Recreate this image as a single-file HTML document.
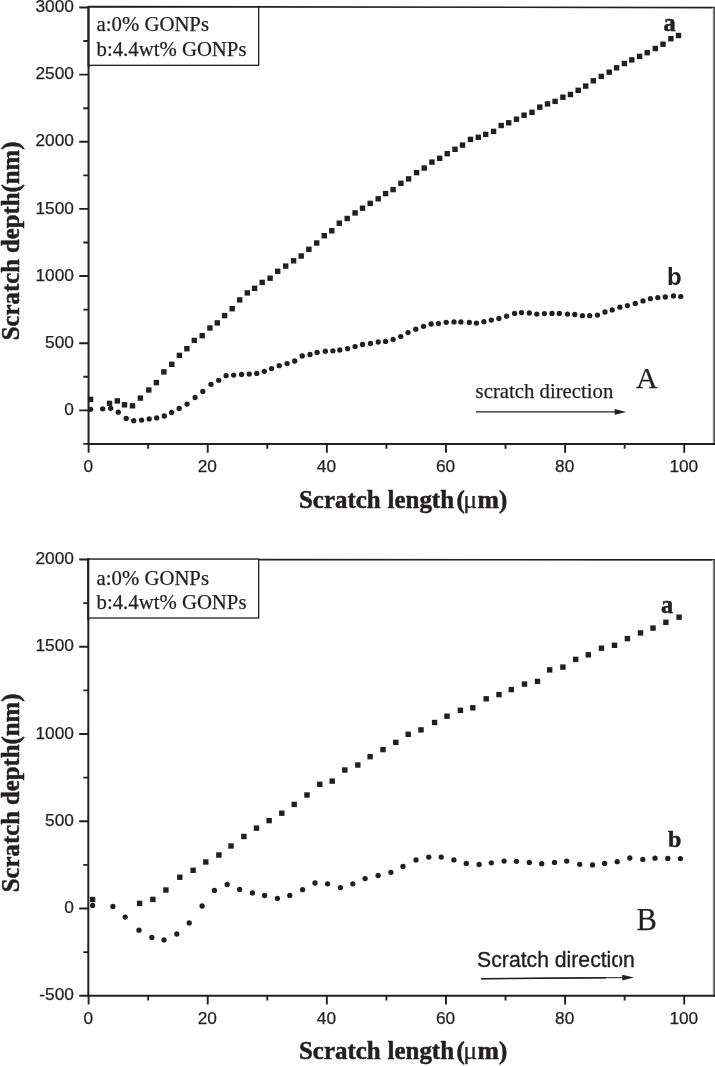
<!DOCTYPE html>
<html lang="en"><head><meta charset="utf-8">
<title>Scratch depth vs scratch length</title>
<style>
html,body{margin:0;padding:0;background:#fff;}
body{width:715px;height:1066px;overflow:hidden;}
svg{display:block;will-change:transform;}
.sans{font-family:"Liberation Sans",sans-serif;}
.serif{font-family:"Liberation Serif",serif;}
.tick{font-size:17.3px;}
.leg{font-size:20.75px;}
.axl{font-size:24.9px;font-weight:bold;}
.big{font-size:31px;}
.cur{font-size:24px;font-weight:bold;}
text{stroke:#231f20;stroke-width:0.25px;stroke-linejoin:round;}
.axl,.cur{stroke-width:0.5px;}
.tick{stroke-width:0.15px;}
</style></head><body>
<svg width="715" height="1066" viewBox="0 0 715 1066" fill="#231f20">
<g id="plotA">
<path d="M88.55 6.55 L715.00 7.60" stroke="#231f20" stroke-width="1.7" fill="none"/>
<path d="M712.5 8.50V442.90" stroke="#ebebeb" stroke-width="1" fill="none"/>
<path d="M713.5 7.50V444.90" stroke="#858283" stroke-width="1" fill="none"/>
<path d="M714.5 7.50V444.90" stroke="#575455" stroke-width="1" fill="none"/>
<path d="M88.55 6.10 V443.90 H715.00" stroke="#231f20" stroke-width="2.0" fill="none"/>
<path d="M79.20 410.33H88.55M79.20 343.19H88.55M79.20 276.05H88.55M79.20 208.92H88.55M79.20 141.78H88.55M79.20 74.64H88.55M79.20 7.50H88.55M83.30 443.90H88.55M83.30 376.76H88.55M83.30 309.62H88.55M83.30 242.48H88.55M83.30 175.35H88.55M83.30 108.21H88.55M83.30 41.07H88.55" stroke="#231f20" stroke-width="1.9" fill="none"/>
<path d="M88.60 443.90V452.70M207.72 443.90V452.70M326.84 443.90V452.70M445.96 443.90V452.70M565.08 443.90V452.70M684.20 443.90V452.70M148.16 443.90V448.80M267.28 443.90V448.80M386.40 443.90V448.80M505.52 443.90V448.80M624.64 443.90V448.80" stroke="#231f20" stroke-width="1.9" fill="none"/>
<g class="sans tick" text-anchor="end">
<text x="73.9" y="414.93">0</text>
<text x="73.9" y="347.79">500</text>
<text x="73.9" y="280.65">1000</text>
<text x="73.9" y="213.52">1500</text>
<text x="73.9" y="146.38">2000</text>
<text x="73.9" y="79.24">2500</text>
<text x="73.9" y="12.10">3000</text>
</g>
<g class="sans tick" text-anchor="middle">
<text x="88.20" y="471.70">0</text>
<text x="207.32" y="471.70">20</text>
<text x="326.44" y="471.70">40</text>
<text x="445.56" y="471.70">60</text>
<text x="564.68" y="471.70">80</text>
<text x="683.80" y="471.70">100</text>
</g>
<rect x="88.55" y="7.10" width="170.15" height="58.20" fill="#fff" stroke="#231f20" stroke-width="1.3"/>
<g class="serif leg">
<text x="96.6" y="31.40">a:0% GONPs</text>
<text x="96.6" y="55.70">b:4.4wt% GONPs</text>
</g>
<path d="M88.55 6.10 V67.30" stroke="#231f20" stroke-width="2.0" fill="none"/>
<g id="series-a-A">
<rect x="87.9" y="396.7" width="5.4" height="5.4"/>
<rect x="106.8" y="400.7" width="5.4" height="5.4"/>
<rect x="114.6" y="398.2" width="5.4" height="5.4"/>
<rect x="121.8" y="402.1" width="5.4" height="5.4"/>
<rect x="129.8" y="403.1" width="5.4" height="5.4"/>
<rect x="137.7" y="395.4" width="5.4" height="5.4"/>
<rect x="146.1" y="387.3" width="5.4" height="5.4"/>
<rect x="153.7" y="379.9" width="5.4" height="5.4"/>
<rect x="161.2" y="369.2" width="5.4" height="5.4"/>
<rect x="169.1" y="361.6" width="5.4" height="5.4"/>
<rect x="176.7" y="352.7" width="5.4" height="5.4"/>
<rect x="184.2" y="346.0" width="5.4" height="5.4"/>
<rect x="191.6" y="337.7" width="5.4" height="5.4"/>
<rect x="199.5" y="333.0" width="5.4" height="5.4"/>
<rect x="207.2" y="325.3" width="5.4" height="5.4"/>
<rect x="214.6" y="320.2" width="5.4" height="5.4"/>
<rect x="221.9" y="312.9" width="5.4" height="5.4"/>
<rect x="229.5" y="306.0" width="5.4" height="5.4"/>
<rect x="237.0" y="297.2" width="5.4" height="5.4"/>
<rect x="244.6" y="290.2" width="5.4" height="5.4"/>
<rect x="251.9" y="285.6" width="5.4" height="5.4"/>
<rect x="259.5" y="279.7" width="5.4" height="5.4"/>
<rect x="267.4" y="275.5" width="5.4" height="5.4"/>
<rect x="275.0" y="268.6" width="5.4" height="5.4"/>
<rect x="283.0" y="263.4" width="5.4" height="5.4"/>
<rect x="290.9" y="258.1" width="5.4" height="5.4"/>
<rect x="298.5" y="253.3" width="5.4" height="5.4"/>
<rect x="306.2" y="246.6" width="5.4" height="5.4"/>
<rect x="314.0" y="240.3" width="5.4" height="5.4"/>
<rect x="321.6" y="233.0" width="5.4" height="5.4"/>
<rect x="329.1" y="228.1" width="5.4" height="5.4"/>
<rect x="336.6" y="220.5" width="5.4" height="5.4"/>
<rect x="344.5" y="215.8" width="5.4" height="5.4"/>
<rect x="352.4" y="210.2" width="5.4" height="5.4"/>
<rect x="359.8" y="205.5" width="5.4" height="5.4"/>
<rect x="367.5" y="200.7" width="5.4" height="5.4"/>
<rect x="375.5" y="196.1" width="5.4" height="5.4"/>
<rect x="382.9" y="190.9" width="5.4" height="5.4"/>
<rect x="390.4" y="186.9" width="5.4" height="5.4"/>
<rect x="398.2" y="180.6" width="5.4" height="5.4"/>
<rect x="405.9" y="176.2" width="5.4" height="5.4"/>
<rect x="413.9" y="169.9" width="5.4" height="5.4"/>
<rect x="421.5" y="165.3" width="5.4" height="5.4"/>
<rect x="429.2" y="159.4" width="5.4" height="5.4"/>
<rect x="437.0" y="155.6" width="5.4" height="5.4"/>
<rect x="444.5" y="151.0" width="5.4" height="5.4"/>
<rect x="452.3" y="146.6" width="5.4" height="5.4"/>
<rect x="459.8" y="142.4" width="5.4" height="5.4"/>
<rect x="467.8" y="136.7" width="5.4" height="5.4"/>
<rect x="475.6" y="134.6" width="5.4" height="5.4"/>
<rect x="483.0" y="131.7" width="5.4" height="5.4"/>
<rect x="490.9" y="128.7" width="5.4" height="5.4"/>
<rect x="498.5" y="122.8" width="5.4" height="5.4"/>
<rect x="506.0" y="120.1" width="5.4" height="5.4"/>
<rect x="513.8" y="116.5" width="5.4" height="5.4"/>
<rect x="521.4" y="112.5" width="5.4" height="5.4"/>
<rect x="529.3" y="109.6" width="5.4" height="5.4"/>
<rect x="537.1" y="104.4" width="5.4" height="5.4"/>
<rect x="544.8" y="101.2" width="5.4" height="5.4"/>
<rect x="552.4" y="98.7" width="5.4" height="5.4"/>
<rect x="560.2" y="94.5" width="5.4" height="5.4"/>
<rect x="567.7" y="91.8" width="5.4" height="5.4"/>
<rect x="575.5" y="87.6" width="5.4" height="5.4"/>
<rect x="583.0" y="83.4" width="5.4" height="5.4"/>
<rect x="590.6" y="78.1" width="5.4" height="5.4"/>
<rect x="598.6" y="73.7" width="5.4" height="5.4"/>
<rect x="606.5" y="69.5" width="5.4" height="5.4"/>
<rect x="613.9" y="65.1" width="5.4" height="5.4"/>
<rect x="621.7" y="60.8" width="5.4" height="5.4"/>
<rect x="629.1" y="57.2" width="5.4" height="5.4"/>
<rect x="636.9" y="53.7" width="5.4" height="5.4"/>
<rect x="644.5" y="50.0" width="5.4" height="5.4"/>
<rect x="652.6" y="45.8" width="5.4" height="5.4"/>
<rect x="660.3" y="41.5" width="5.4" height="5.4"/>
<rect x="668.2" y="36.0" width="5.4" height="5.4"/>
<rect x="675.8" y="32.8" width="5.4" height="5.4"/>
</g>
<g id="series-b-A">
<circle cx="90.6" cy="409.3" r="2.65"/>
<circle cx="102.7" cy="408.8" r="2.65"/>
<circle cx="110.7" cy="408.3" r="2.65"/>
<circle cx="118.3" cy="412.2" r="2.65"/>
<circle cx="126.2" cy="418.4" r="2.65"/>
<circle cx="133.7" cy="420.7" r="2.65"/>
<circle cx="141.6" cy="420.1" r="2.65"/>
<circle cx="149.2" cy="418.9" r="2.65"/>
<circle cx="156.7" cy="417.9" r="2.65"/>
<circle cx="164.3" cy="416.0" r="2.65"/>
<circle cx="171.6" cy="412.5" r="2.65"/>
<circle cx="179.2" cy="408.5" r="2.65"/>
<circle cx="187.1" cy="404.1" r="2.65"/>
<circle cx="195.1" cy="397.5" r="2.65"/>
<circle cx="202.8" cy="391.5" r="2.65"/>
<circle cx="211.0" cy="384.3" r="2.65"/>
<circle cx="218.7" cy="380.3" r="2.65"/>
<circle cx="226.1" cy="375.7" r="2.65"/>
<circle cx="233.6" cy="375.1" r="2.65"/>
<circle cx="241.6" cy="374.5" r="2.65"/>
<circle cx="249.2" cy="374.1" r="2.65"/>
<circle cx="256.7" cy="373.4" r="2.65"/>
<circle cx="264.3" cy="371.3" r="2.65"/>
<circle cx="271.6" cy="368.6" r="2.65"/>
<circle cx="279.2" cy="365.7" r="2.65"/>
<circle cx="287.1" cy="363.6" r="2.65"/>
<circle cx="294.7" cy="361.0" r="2.65"/>
<circle cx="302.2" cy="356.0" r="2.65"/>
<circle cx="310.0" cy="354.5" r="2.65"/>
<circle cx="317.1" cy="352.4" r="2.65"/>
<circle cx="325.3" cy="351.2" r="2.65"/>
<circle cx="332.9" cy="350.8" r="2.65"/>
<circle cx="339.8" cy="350.0" r="2.65"/>
<circle cx="347.6" cy="348.7" r="2.65"/>
<circle cx="355.1" cy="346.6" r="2.65"/>
<circle cx="362.5" cy="344.5" r="2.65"/>
<circle cx="370.5" cy="343.5" r="2.65"/>
<circle cx="378.2" cy="342.0" r="2.65"/>
<circle cx="385.6" cy="341.4" r="2.65"/>
<circle cx="393.1" cy="339.5" r="2.65"/>
<circle cx="400.7" cy="336.6" r="2.65"/>
<circle cx="408.0" cy="332.6" r="2.65"/>
<circle cx="415.8" cy="329.2" r="2.65"/>
<circle cx="423.5" cy="326.3" r="2.65"/>
<circle cx="431.1" cy="324.0" r="2.65"/>
<circle cx="438.4" cy="323.6" r="2.65"/>
<circle cx="446.2" cy="322.3" r="2.65"/>
<circle cx="454.0" cy="321.9" r="2.65"/>
<circle cx="460.9" cy="321.9" r="2.65"/>
<circle cx="469.3" cy="322.5" r="2.65"/>
<circle cx="476.4" cy="323.1" r="2.65"/>
<circle cx="483.9" cy="321.7" r="2.65"/>
<circle cx="491.3" cy="320.1" r="2.65"/>
<circle cx="498.9" cy="318.5" r="2.65"/>
<circle cx="506.6" cy="316.2" r="2.65"/>
<circle cx="514.6" cy="313.4" r="2.65"/>
<circle cx="521.5" cy="312.6" r="2.65"/>
<circle cx="529.3" cy="313.0" r="2.65"/>
<circle cx="536.8" cy="314.1" r="2.65"/>
<circle cx="544.4" cy="313.6" r="2.65"/>
<circle cx="552.0" cy="313.4" r="2.65"/>
<circle cx="559.3" cy="313.4" r="2.65"/>
<circle cx="567.5" cy="314.1" r="2.65"/>
<circle cx="574.8" cy="314.5" r="2.65"/>
<circle cx="582.4" cy="315.7" r="2.65"/>
<circle cx="589.7" cy="315.7" r="2.65"/>
<circle cx="597.5" cy="315.1" r="2.65"/>
<circle cx="605.0" cy="312.0" r="2.65"/>
<circle cx="612.2" cy="309.9" r="2.65"/>
<circle cx="619.9" cy="307.2" r="2.65"/>
<circle cx="627.4" cy="305.6" r="2.65"/>
<circle cx="635.3" cy="303.4" r="2.65"/>
<circle cx="643.0" cy="300.9" r="2.65"/>
<circle cx="650.4" cy="298.7" r="2.65"/>
<circle cx="657.8" cy="297.6" r="2.65"/>
<circle cx="665.3" cy="297.0" r="2.65"/>
<circle cx="673.5" cy="295.9" r="2.65"/>
<circle cx="680.7" cy="296.6" r="2.65"/>
</g>
<text class="serif axl" y="507.60"><tspan x="299.0">Scratch</tspan> <tspan x="387.6">length</tspan><tspan x="456.6">(</tspan><tspan x="463.2" font-weight="normal" font-size="26" stroke-width="0.25">μ</tspan><tspan x="477.4" font-size="24.9" textLength="21.4" lengthAdjust="spacingAndGlyphs">m</tspan><tspan x="498.9">)</tspan></text>
</g>
<text class="serif axl" style="font-size:24.75px" transform="translate(18.7 340.2) rotate(-90)">Scratch depth(nm)</text>
<text class="serif cur" style="font-size:24.4px" x="663.5" y="30.5">a</text>
<text class="sans cur" style="stroke-width:0" x="666.9" y="285.3">b</text>
<text class="serif big" style="font-size:30px" x="635.9" y="388.4">A</text>
<text class="serif leg" x="475.6" y="397.5">scratch direction</text>
<path d="M476 411.9H616" stroke="#231f20" stroke-width="1.1" fill="none"/>
<path d="M626.4 411.9L614.6 409.1L614.6 414.7Z"/>
<g id="plotB">
<path d="M88.30 559.60 L715.00 559.80" stroke="#231f20" stroke-width="1.7" fill="none"/>
<path d="M712.5 560.50V994.70" stroke="#ebebeb" stroke-width="1" fill="none"/>
<path d="M713.5 559.50V996.70" stroke="#858283" stroke-width="1" fill="none"/>
<path d="M714.5 559.50V996.70" stroke="#575455" stroke-width="1" fill="none"/>
<path d="M88.30 558.10 V995.70 H715.00" stroke="#231f20" stroke-width="2.0" fill="none"/>
<path d="M79.20 995.70H88.30M79.20 908.46H88.30M79.20 821.22H88.30M79.20 733.98H88.30M79.20 646.74H88.30M79.20 559.50H88.30M83.30 952.08H88.30M83.30 864.84H88.30M83.30 777.60H88.30M83.30 690.36H88.30M83.30 603.12H88.30" stroke="#231f20" stroke-width="1.9" fill="none"/>
<path d="M88.60 995.70V1004.50M207.72 995.70V1004.50M326.84 995.70V1004.50M445.96 995.70V1004.50M565.08 995.70V1004.50M684.20 995.70V1004.50M148.16 995.70V1000.60M267.28 995.70V1000.60M386.40 995.70V1000.60M505.52 995.70V1000.60M624.64 995.70V1000.60" stroke="#231f20" stroke-width="1.9" fill="none"/>
<g class="sans tick" text-anchor="end">
<text x="73.9" y="1000.30">-500</text>
<text x="73.9" y="913.06">0</text>
<text x="73.9" y="825.82">500</text>
<text x="73.9" y="738.58">1000</text>
<text x="73.9" y="651.34">1500</text>
<text x="73.9" y="564.10">2000</text>
</g>
<g class="sans tick" text-anchor="middle">
<text x="88.20" y="1023.50">0</text>
<text x="207.32" y="1023.50">20</text>
<text x="326.44" y="1023.50">40</text>
<text x="445.56" y="1023.50">60</text>
<text x="564.68" y="1023.50">80</text>
<text x="683.80" y="1023.50">100</text>
</g>
<rect x="88.30" y="559.10" width="170.40" height="58.90" fill="#fff" stroke="#231f20" stroke-width="1.3"/>
<g class="serif leg">
<text x="96.6" y="584.60">a:0% GONPs</text>
<text x="96.6" y="609.10">b:4.4wt% GONPs</text>
</g>
<path d="M88.30 558.10 V620.00" stroke="#231f20" stroke-width="2.0" fill="none"/>
<g id="series-a-B">
<rect x="89.9" y="896.8" width="5.4" height="5.4"/>
<rect x="136.9" y="900.7" width="5.4" height="5.4"/>
<rect x="150.2" y="896.7" width="5.4" height="5.4"/>
<rect x="163.2" y="887.3" width="5.4" height="5.4"/>
<rect x="177.1" y="874.5" width="5.4" height="5.4"/>
<rect x="190.4" y="867.6" width="5.4" height="5.4"/>
<rect x="203.1" y="859.3" width="5.4" height="5.4"/>
<rect x="216.2" y="852.3" width="5.4" height="5.4"/>
<rect x="228.3" y="843.3" width="5.4" height="5.4"/>
<rect x="241.2" y="833.8" width="5.4" height="5.4"/>
<rect x="253.8" y="825.4" width="5.4" height="5.4"/>
<rect x="266.4" y="817.9" width="5.4" height="5.4"/>
<rect x="279.1" y="810.5" width="5.4" height="5.4"/>
<rect x="291.5" y="801.7" width="5.4" height="5.4"/>
<rect x="304.3" y="792.3" width="5.4" height="5.4"/>
<rect x="317.1" y="781.6" width="5.4" height="5.4"/>
<rect x="329.5" y="778.4" width="5.4" height="5.4"/>
<rect x="342.1" y="767.3" width="5.4" height="5.4"/>
<rect x="355.1" y="762.3" width="5.4" height="5.4"/>
<rect x="367.4" y="754.0" width="5.4" height="5.4"/>
<rect x="380.3" y="746.9" width="5.4" height="5.4"/>
<rect x="393.1" y="739.7" width="5.4" height="5.4"/>
<rect x="405.5" y="731.6" width="5.4" height="5.4"/>
<rect x="418.3" y="727.2" width="5.4" height="5.4"/>
<rect x="431.9" y="719.8" width="5.4" height="5.4"/>
<rect x="444.3" y="713.5" width="5.4" height="5.4"/>
<rect x="457.7" y="707.6" width="5.4" height="5.4"/>
<rect x="470.1" y="705.1" width="5.4" height="5.4"/>
<rect x="483.5" y="696.1" width="5.4" height="5.4"/>
<rect x="496.3" y="691.9" width="5.4" height="5.4"/>
<rect x="508.6" y="686.9" width="5.4" height="5.4"/>
<rect x="521.8" y="681.4" width="5.4" height="5.4"/>
<rect x="534.8" y="678.7" width="5.4" height="5.4"/>
<rect x="547.0" y="667.2" width="5.4" height="5.4"/>
<rect x="560.2" y="664.4" width="5.4" height="5.4"/>
<rect x="573.0" y="656.7" width="5.4" height="5.4"/>
<rect x="585.6" y="652.1" width="5.4" height="5.4"/>
<rect x="598.8" y="645.5" width="5.4" height="5.4"/>
<rect x="611.8" y="642.6" width="5.4" height="5.4"/>
<rect x="624.7" y="635.9" width="5.4" height="5.4"/>
<rect x="637.8" y="630.2" width="5.4" height="5.4"/>
<rect x="650.3" y="625.4" width="5.4" height="5.4"/>
<rect x="663.2" y="619.6" width="5.4" height="5.4"/>
<rect x="676.4" y="614.5" width="5.4" height="5.4"/>
</g>
<g id="series-b-B">
<circle cx="92.6" cy="905.4" r="2.65"/>
<circle cx="112.9" cy="906.4" r="2.65"/>
<circle cx="125.2" cy="917.1" r="2.65"/>
<circle cx="139.0" cy="930.2" r="2.65"/>
<circle cx="151.8" cy="937.4" r="2.65"/>
<circle cx="164.0" cy="939.9" r="2.65"/>
<circle cx="176.8" cy="934.0" r="2.65"/>
<circle cx="189.2" cy="922.9" r="2.65"/>
<circle cx="202.1" cy="906.0" r="2.65"/>
<circle cx="214.4" cy="890.4" r="2.65"/>
<circle cx="227.2" cy="884.5" r="2.65"/>
<circle cx="239.6" cy="889.4" r="2.65"/>
<circle cx="252.4" cy="892.9" r="2.65"/>
<circle cx="264.6" cy="895.5" r="2.65"/>
<circle cx="277.4" cy="898.5" r="2.65"/>
<circle cx="289.8" cy="895.4" r="2.65"/>
<circle cx="302.6" cy="889.7" r="2.65"/>
<circle cx="315.0" cy="883.0" r="2.65"/>
<circle cx="327.6" cy="883.8" r="2.65"/>
<circle cx="340.4" cy="887.6" r="2.65"/>
<circle cx="352.8" cy="883.8" r="2.65"/>
<circle cx="365.1" cy="878.6" r="2.65"/>
<circle cx="378.1" cy="875.5" r="2.65"/>
<circle cx="390.9" cy="872.3" r="2.65"/>
<circle cx="403.0" cy="866.4" r="2.65"/>
<circle cx="416.0" cy="859.9" r="2.65"/>
<circle cx="428.8" cy="857.1" r="2.65"/>
<circle cx="441.2" cy="857.1" r="2.65"/>
<circle cx="453.9" cy="859.9" r="2.65"/>
<circle cx="466.3" cy="863.4" r="2.65"/>
<circle cx="479.1" cy="864.5" r="2.65"/>
<circle cx="491.3" cy="862.8" r="2.65"/>
<circle cx="504.1" cy="861.1" r="2.65"/>
<circle cx="516.5" cy="861.3" r="2.65"/>
<circle cx="529.3" cy="862.4" r="2.65"/>
<circle cx="541.7" cy="863.7" r="2.65"/>
<circle cx="554.5" cy="862.4" r="2.65"/>
<circle cx="566.7" cy="861.1" r="2.65"/>
<circle cx="579.7" cy="864.3" r="2.65"/>
<circle cx="592.5" cy="864.9" r="2.65"/>
<circle cx="604.6" cy="863.4" r="2.65"/>
<circle cx="617.2" cy="861.7" r="2.65"/>
<circle cx="629.8" cy="858.0" r="2.65"/>
<circle cx="642.8" cy="859.4" r="2.65"/>
<circle cx="655.0" cy="858.2" r="2.65"/>
<circle cx="667.8" cy="858.4" r="2.65"/>
<circle cx="680.4" cy="858.6" r="2.65"/>
</g>
<text class="serif axl" y="1059.40"><tspan x="299.0">Scratch</tspan> <tspan x="387.6">length</tspan><tspan x="456.6">(</tspan><tspan x="463.2" font-weight="normal" font-size="26" stroke-width="0.25">μ</tspan><tspan x="477.4" font-size="24.9" textLength="21.4" lengthAdjust="spacingAndGlyphs">m</tspan><tspan x="498.9">)</tspan></text>
</g>
<text class="serif axl" style="font-size:24.75px" transform="translate(18.7 892.2) rotate(-90)">Scratch depth(nm)</text>
<text class="serif cur" style="font-size:24.4px" x="661.0" y="612.8">a</text>
<text class="serif cur" x="668.1" y="847.1">b</text>
<text class="serif big" style="font-size:30.5px" x="636.5" y="929.7">B</text>
<text class="sans" style="stroke-width:0.35px" font-size="21.2" x="477.1" y="966.8">Scratch direction</text>
<rect x="618.0" y="954.6" width="1.2" height="12.4" fill="#fff"/>
<path d="M481 978.7L624 977.6" stroke="#231f20" stroke-width="1.0" fill="none"/>
<path d="M481 978.7L606 977.75" stroke="#231f20" stroke-width="1.5" fill="none"/>
<path d="M634 977.5L622.2 974.8L622.3 980.4Z"/>
</svg>
</body></html>
